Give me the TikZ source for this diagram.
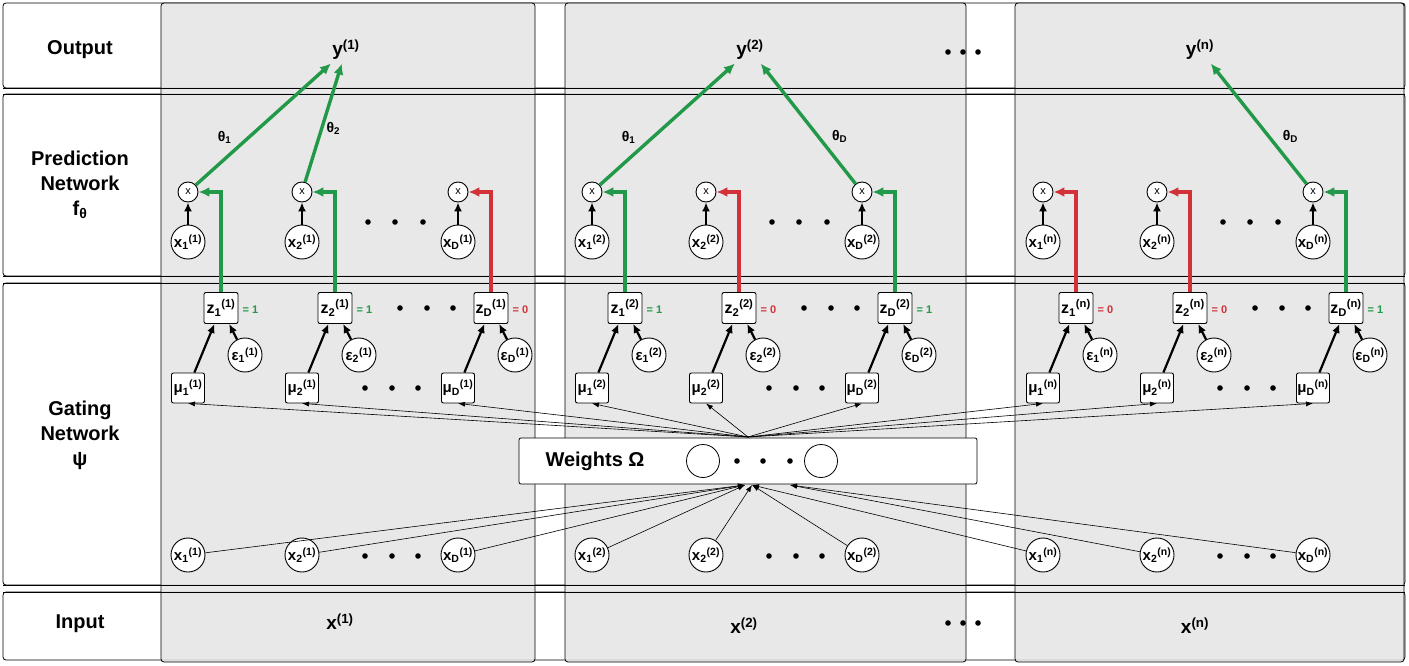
\documentclass[tikz,border=0pt]{standalone}
\usepackage{fontspec}
\setmainfont{Liberation Sans}
\usetikzlibrary{arrows.meta}
\definecolor{gg}{RGB}{34,153,72}
\definecolor{rr}{RGB}{210,50,55}
\definecolor{colg}{RGB}{229,229,229}
\tikzset{
 rowbox/.style={draw,fill=white,rounded corners=3pt,line width=0.8pt},
 colbox/.style={draw,fill=colg,rounded corners=3pt,line width=0.8pt},
 lab/.style={font=\fontsize{20}{25}\selectfont\bfseries,align=center},
 big/.style={font=\fontsize{19}{22}\selectfont\bfseries},
 xc/.style={draw,fill=white,circle,line width=0.9pt,minimum size=20pt,inner sep=0pt,font=\fontsize{11}{11}\selectfont},
 xn/.style={draw,fill=white,circle,line width=0.9pt,minimum size=34pt,inner sep=0pt,font=\fontsize{15}{15}\selectfont\bfseries},
 zb/.style={draw,fill=white,rounded corners=2pt,line width=0.9pt,minimum width=34pt,minimum height=31pt,inner sep=0pt,font=\fontsize{16}{16}\selectfont\bfseries},
 mb/.style={draw,fill=white,rounded corners=2pt,line width=0.9pt,minimum width=33pt,minimum height=30pt,inner sep=0pt,font=\fontsize{15}{15}\selectfont\bfseries},
 val/.style={anchor=west,font=\fontsize{11}{11}\selectfont\bfseries},
 th/.style={font=\fontsize{14}{14}\selectfont\bfseries},
 sarr/.style={-{Latex[length=9pt,width=8pt]},line width=2.2pt},
 garr/.style={-{Latex[length=11pt,width=10pt]},line width=3.4pt},
 farr/.style={-{Latex[length=7pt,width=5pt]},line width=0.6pt},
}
\newcommand\tdots{}
\renewcommand\tdots[4]{\foreach \q in {#1,#2,#3}{\fill (\q,#4) circle (2.8pt);}}
\newcommand\gunit[6]{%
 \node[xc] (p#1) at (#2,192) {x};
 \node[xn] (px#1) at (#2,242) {x\textsubscript{#3}\textsuperscript{(#4)}};
 \node[zb] (z#1) at ({#2+33},308) {z\textsubscript{#3}\textsuperscript{(#4)}};
 \node[val,text=#5] (v#1) at ({#2+51},310) {= #6};
 \node[xn] (e#1) at ({#2+57},355) {ε\textsubscript{#3}\textsuperscript{(#4)}};
 \node[mb] (m#1) at (#2,388) {μ\textsubscript{#3}\textsuperscript{(#4)}};
 \node[xn] (i#1) at (#2,555) {x\textsubscript{#3}\textsuperscript{(#4)}};
 \draw[sarr] (px#1) -- (p#1);
 \draw[sarr] (m#1) -- (z#1);
 \draw[sarr] (e#1) -- (z#1);
 \draw[garr,draw=#5,color=#5] (z#1.north) |- (p#1.east);
}
\begin{document}
\begin{tikzpicture}[x=1pt,y=-1pt]
\useasboundingbox (0,0) rectangle (1409,666);
% rows
\draw[rowbox] (3,3) rectangle (1405,88);
\draw[rowbox] (3,94) rectangle (1405,276);
\draw[rowbox] (3,283) rectangle (1405,585);
\draw[rowbox] (3,592) rectangle (1405,660);
% columns
\draw[colbox,fill opacity=0.85] (161,3) rectangle (535,662);
\draw[colbox,fill opacity=0.85] (565,3) rectangle (966,662);
\draw[colbox,fill opacity=0.85] (1015,3) rectangle (1404,662);
\foreach \yy in {88,94,276,283,585,592}{\draw[line width=0.8pt] (3,\yy) -- (1405,\yy);}
% labels
\node[lab] (lo) at (80,50) {Output};
\node[lab] (lp) at (80,185) {Prediction\\Network\\f\textsubscript{θ}};
\node[lab] (lg) at (80,435) {Gating\\Network\\ψ};
\node[lab] (li) at (80,624) {Input};
\tdots{948}{963}{978}{52}
\tdots{948}{963}{978}{623}
% outputs and inputs
\node[big] (y1) at (346,50) {y\textsuperscript{(1)}};
\node[big] (y2) at (750,50) {y\textsuperscript{(2)}};
\node[big] (yn) at (1200,50) {y\textsuperscript{(n)}};
\node[big] (X1) at (340,622) {x\textsuperscript{(1)}};
\node[big] (X2) at (744,626) {x\textsuperscript{(2)}};
\node[big] (Xn) at (1195,626) {x\textsuperscript{(n)}};
% weights
\node[draw,fill=white,rounded corners=2pt,line width=0.8pt,minimum width=458pt,minimum height=46pt] (W) at (748,461) {};
\node[font=\fontsize{20}{20}\selectfont\bfseries] (wt) at (595,461) {Weights Ω};
\node[draw,circle,fill=white,line width=0.8pt,minimum size=33pt] (w1) at (703,461) {};
\node[draw,circle,fill=white,line width=0.8pt,minimum size=33pt] (w2) at (821,461) {};
\tdots{737}{763}{790}{461}
\coordinate (wt0) at (748,437);
\coordinate (wb0) at (745,485);
\coordinate (wb1) at (752,485);
\coordinate (wb2) at (790,485);
% units
\gunit{a1}{188}{1}{1}{gg}{1}
\gunit{a2}{302}{2}{1}{gg}{1}
\gunit{a3}{458}{D}{1}{rr}{0}
\gunit{b1}{592}{1}{2}{gg}{1}
\gunit{b2}{706}{2}{2}{rr}{0}
\gunit{b3}{862}{D}{2}{gg}{1}
\gunit{c1}{1043}{1}{n}{rr}{0}
\gunit{c2}{1157}{2}{n}{rr}{0}
\gunit{c3}{1313}{D}{n}{gg}{1}
\foreach \o in {0,404,855}{
 \tdots{\o+368}{\o+395}{\o+423}{222}
 \tdots{\o+400}{\o+427}{\o+453}{308}
 \tdots{\o+365}{\o+392}{\o+418}{388}
 \tdots{\o+365}{\o+392}{\o+418}{556}
}
% fans
\foreach \n in {a1,a2,a3,b1,b2,b3,c1,c2,c3}{\draw[farr] (wt0) -- (m\n.south);}
\foreach \n in {a1,a2,a3,b1}{\draw[farr] (i\n) -- (wb0);}
\foreach \n in {b2,b3,c1}{\draw[farr] (i\n) -- (wb1);}
\foreach \n in {c2,c3}{\draw[farr] (i\n) -- (wb2);}
% predictions
\draw[garr,gg] (pa1) -- (y1) node[pos=0.3,above left,th,black] {θ\textsubscript{1}};
\draw[garr,gg] (pa2) -- (y1) node[pos=0.45,right,th,black] {θ\textsubscript{2}};
\draw[garr,gg] (pb1) -- (y2) node[pos=0.3,above left,th,black] {θ\textsubscript{1}};
\draw[garr,gg] (pb3) -- (y2) node[pos=0.3,above right,th,black] {θ\textsubscript{D}};
\draw[garr,gg] (pc3) -- (yn) node[pos=0.3,above right,th,black] {θ\textsubscript{D}};
\end{tikzpicture}
\end{document}
